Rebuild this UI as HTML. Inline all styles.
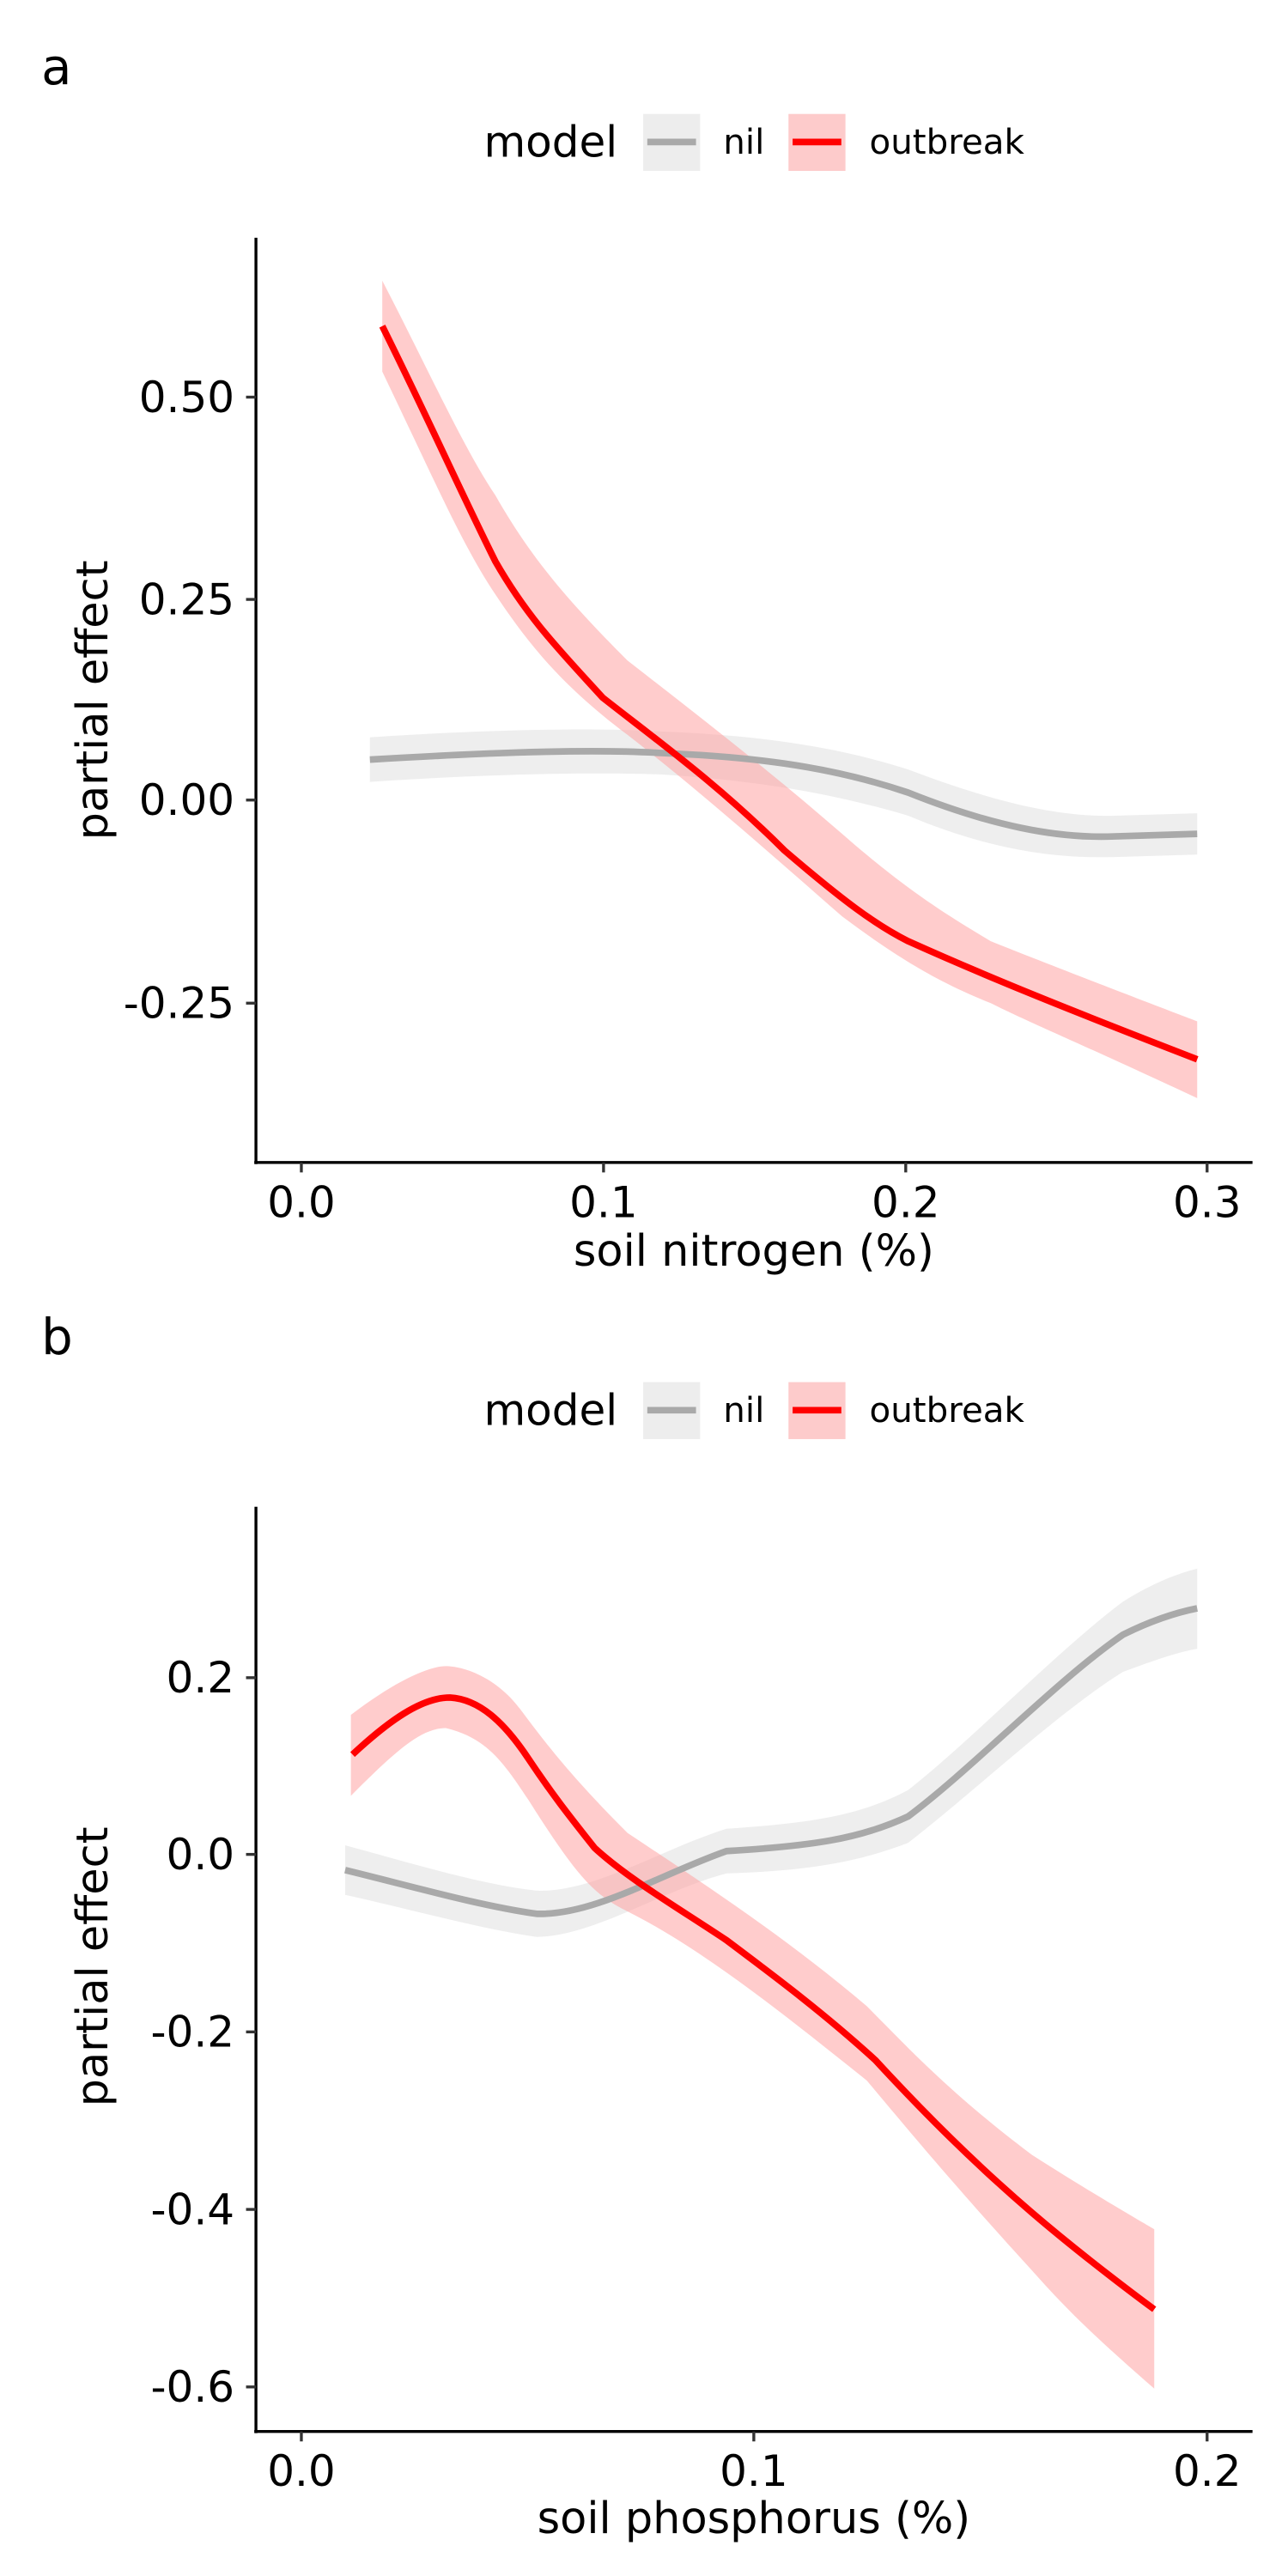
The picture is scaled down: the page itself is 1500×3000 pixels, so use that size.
<!DOCTYPE html>
<html><head><meta charset="utf-8"><style>
html,body{margin:0;padding:0;background:#fff;}
svg{display:block;}
text{font-family:"DejaVu Sans","Liberation Sans",sans-serif;fill:#000;}
</style></head><body>
<svg width="1500" height="3000" viewBox="0 0 1560 3120" xmlns="http://www.w3.org/2000/svg">
<!-- Panel a -->
<g>
<text x="50" y="102" font-size="60">a</text>
<text x="586" y="190" font-size="52">model</text>
<rect x="779" y="138" width="69" height="69" fill="#ebebeb" opacity="0.9"/>
<line x1="784" y1="172" x2="843" y2="172" stroke="#a9a9a9" stroke-width="8"/>
<text x="876" y="186" font-size="42">nil</text>
<rect x="955" y="138" width="69" height="69" fill="#fdcbcb"/>
<line x1="960" y1="172" x2="1019" y2="172" stroke="#ff0000" stroke-width="8"/>
<text x="1053" y="186" font-size="42">outbreak</text>

<path d="M448,893 C550,886 700,880 800,886 C900,890 1000,900 1100,932 C1200,970 1280,990 1350,988 L1450,985 L1450,1035 L1350,1038 C1280,1040 1200,1030 1100,988 C1000,958 900,944 800,938 C700,934 550,940 448,947 Z" fill="#ebebeb" opacity="0.85"/>
<path d="M463,340 C520,450 560,540 600,600 C640,670 680,720 760,800 C850,870 940,940 1020,1010 C1100,1080 1150,1110 1200,1140 C1300,1180 1450,1237 1450,1237 L1450,1330 C1300,1260 1250,1240 1200,1215 C1150,1195 1100,1170 1020,1110 C940,1040 850,960 760,890 C680,830 640,780 600,720 C560,660 530,590 463,450 Z" fill="#ff9999" opacity="0.5"/>
<path d="M448,920 C550,914 700,906 800,912 C900,916 1000,926 1100,960 C1200,1000 1280,1016 1350,1013 L1450,1010" fill="none" stroke="#a9a9a9" stroke-width="8"/>
<path d="M463,395 C520,510 560,600 600,680 C640,750 680,790 730,845 C800,900 870,950 950,1030 C1020,1090 1060,1120 1100,1140 C1200,1185 1300,1225 1450,1283" fill="none" stroke="#ff0000" stroke-width="8"/>

<line x1="310" y1="288" x2="310" y2="1410" stroke="#000" stroke-width="3.5"/>
<line x1="308" y1="1408" x2="1517" y2="1408" stroke="#000" stroke-width="3.5"/>
<g stroke="#333" stroke-width="3.5">
<line x1="298" y1="481" x2="310" y2="481"/><line x1="298" y1="726" x2="310" y2="726"/>
<line x1="298" y1="969" x2="310" y2="969"/><line x1="298" y1="1215" x2="310" y2="1215"/>
<line x1="365" y1="1408" x2="365" y2="1420"/><line x1="731" y1="1408" x2="731" y2="1420"/>
<line x1="1097" y1="1408" x2="1097" y2="1420"/><line x1="1462" y1="1408" x2="1462" y2="1420"/>
</g>
<g font-size="52" text-anchor="end">
<text x="284" y="499">0.50</text><text x="284" y="744">0.25</text>
<text x="284" y="987">0.00</text><text x="284" y="1233">-0.25</text>
</g>
<g font-size="52" text-anchor="middle">
<text x="365" y="1474">0.0</text><text x="731" y="1474">0.1</text>
<text x="1097" y="1474">0.2</text><text x="1462" y="1474">0.3</text>
<text x="913" y="1533" font-size="53">soil nitrogen (%)</text>
</g>
<text transform="translate(130,848) rotate(-90)" font-size="53" text-anchor="middle">partial effect</text>
</g>

<!-- Panel b -->
<g transform="translate(0,1560)">
<text x="50" y="80" font-size="60">b</text>
<text x="586" y="166" font-size="52">model</text>
<rect x="779" y="114" width="69" height="69" fill="#ebebeb" opacity="0.9"/>
<line x1="784" y1="148" x2="843" y2="148" stroke="#a9a9a9" stroke-width="8"/>
<text x="876" y="162" font-size="42">nil</text>
<rect x="955" y="114" width="69" height="69" fill="#fdcbcb"/>
<line x1="960" y1="148" x2="1019" y2="148" stroke="#ff0000" stroke-width="8"/>
<text x="1053" y="162" font-size="42">outbreak</text>

<path d="M418,675 C500,697 580,722 650,730 C720,732 800,680 880,655 C980,648 1040,640 1100,608 C1180,545 1280,440 1360,380 C1400,355 1430,345 1450,340 L1450,437 C1430,440 1400,450 1360,465 C1280,515 1180,610 1100,672 C1040,695 980,706 880,709 C800,730 720,785 650,786 C580,776 500,753 418,735 Z" fill="#ebebeb" opacity="0.85"/>
<path d="M425,517 C480,475 520,458 540,458 C560,458 600,470 630,510 C660,550 690,590 760,660 C850,720 950,785 1050,870 C1100,920 1150,975 1250,1050 C1320,1095 1398,1140 1398,1140 L1398,1333 C1320,1265 1290,1235 1250,1190 C1200,1135 1150,1080 1050,960 C950,880 850,800 760,755 C720,735 700,715 640,620 C610,575 590,545 540,533 C510,533 480,560 425,615 Z" fill="#ff9999" opacity="0.5"/>
<path d="M418,705 C500,725 580,748 650,758 C720,760 800,710 880,682 C980,676 1040,668 1100,640 C1180,580 1280,475 1360,420 C1400,400 1430,392 1450,388" fill="none" stroke="#a9a9a9" stroke-width="8"/>
<path d="M427,565 C470,525 510,496 545,496 C580,498 610,525 640,570 C670,615 690,640 720,678 C760,715 820,750 880,790 C940,835 1000,880 1060,935 C1120,1000 1180,1060 1250,1120 C1320,1180 1398,1237 1398,1237" fill="none" stroke="#ff0000" stroke-width="8"/>

<line x1="310" y1="265" x2="310" y2="1387" stroke="#000" stroke-width="3.5"/>
<line x1="308" y1="1385" x2="1517" y2="1385" stroke="#000" stroke-width="3.5"/>
<g stroke="#333" stroke-width="3.5">
<line x1="298" y1="472" x2="310" y2="472"/><line x1="298" y1="686" x2="310" y2="686"/>
<line x1="298" y1="901" x2="310" y2="901"/><line x1="298" y1="1116" x2="310" y2="1116"/>
<line x1="298" y1="1331" x2="310" y2="1331"/>
<line x1="365" y1="1385" x2="365" y2="1397"/><line x1="913" y1="1385" x2="913" y2="1397"/>
<line x1="1462" y1="1385" x2="1462" y2="1397"/>
</g>
<g font-size="52" text-anchor="end">
<text x="284" y="490">0.2</text><text x="284" y="704">0.0</text>
<text x="284" y="919">-0.2</text><text x="284" y="1134">-0.4</text>
<text x="284" y="1349">-0.6</text>
</g>
<g font-size="52" text-anchor="middle">
<text x="365" y="1451">0.0</text><text x="913" y="1451">0.1</text>
<text x="1462" y="1451">0.2</text>
<text x="913" y="1508" font-size="53">soil phosphorus (%)</text>
</g>
<text transform="translate(130,822) rotate(-90)" font-size="53" text-anchor="middle">partial effect</text>
</g>
</svg>
</body></html>
